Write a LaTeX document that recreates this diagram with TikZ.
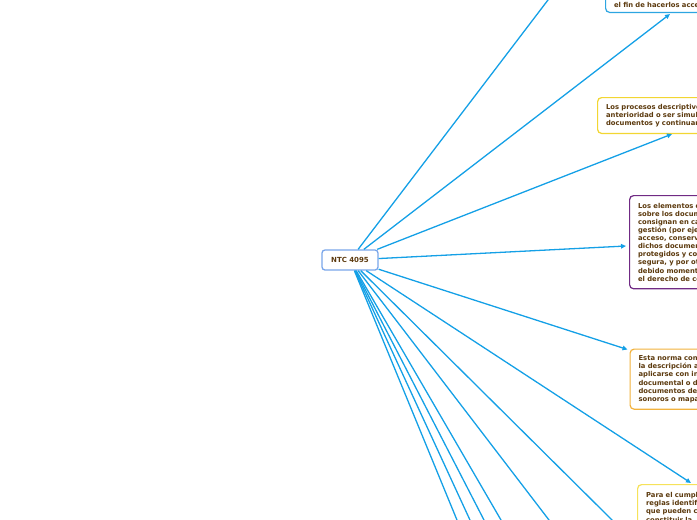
\documentclass[tikz,border=0pt]{standalone}
\usepackage{fontspec}
\setmainfont{DejaVu Sans}
\usetikzlibrary{arrows.meta,calc}
\definecolor{linec}{RGB}{20,160,230}
\definecolor{txt}{RGB}{92,58,14}
\definecolor{ntcb}{RGB}{122,166,234}
\definecolor{bA}{RGB}{45,165,225}
\definecolor{bB}{RGB}{242,214,50}
\definecolor{bC}{RGB}{112,42,132}
\definecolor{bD}{RGB}{242,178,60}
\definecolor{bE}{RGB}{246,226,90}
\begin{document}
\begin{tikzpicture}[x=1pt,y=-1pt,
  box/.style={draw, rounded corners=4pt, line width=1.2pt, fill=white, text=txt,
    font=\fontsize{6.8}{8.1}\selectfont\bfseries, inner xsep=8.5pt, inner ysep=6.5pt,
    align=left, text width=190pt, anchor=north west},
  conn/.style={draw=linec, line width=1.3pt},
  arr/.style={conn, -{Triangle[length=5pt,width=4.5pt]}}]
\useasboundingbox (0,0) rectangle (697,520);
\clip (0,0) rectangle (697,520);
% central node
\node[draw=ntcb, rounded corners=3pt, line width=1.3pt, fill=white, text=txt,
  font=\fontsize{7}{8}\selectfont\bfseries, minimum width=56pt, minimum height=20pt,
  inner sep=0pt] (ntc) at (350,260) {NTC 4095};
% boxes
\node[box, draw=bA, anchor=south west, text height=40pt, text depth=0pt, inner ysep=5pt] (A) at (605,13)
  {el fin de hacerlos accesibles};
\node[box, draw=bB] (B) at (597,97)
  {Los procesos descriptivos pueden\\anterioridad o ser simultáneos\\documentos y continuar a lo};
\node[box, draw=bC, inner ysep=7.5pt] (C) at (629,195)
  {Los elementos de\\sobre los documentos\\consignan en cada una\\gestión (por ejemplo\\acceso, conservación\\dichos documentos,\\protegidos y controlados\\segura, y por otro,\\debido momento\\el derecho de consultarlos};
\node[box, draw=bD] (D) at (629.5,348.5)
  {Esta norma contiene\\la descripción archivística\\aplicarse con independencia\\documental o del\\documentos de archivo\\sonoros o mapas};
\node[box, draw=bE, inner ysep=8pt] (E) at (637,484)
  {Para el cumplimiento\\reglas identifican\\que pueden contener\\constituir la};
% free ends off the picture
\coordinate (t0) at (563.2,-20);
\coordinate (b1) at (465.2,540);
\coordinate (b2) at (479.2,540);
\coordinate (b3) at (494.3,540);
\coordinate (b4) at (512.6,540);
\coordinate (b5) at (564.3,540);
\coordinate (b6) at (632.2,540);
% connectors
\draw[conn] (ntc) -- (t0);
\draw[arr] (ntc) -- ($(A.south west)+(65,1)$);
\draw[arr] (ntc) -- ($(B.south west)+(75,0)$);
\draw[arr] (ntc) -- ($(C.north west)+(-3,51)$);
\draw[arr] (ntc) -- ($(D.north west)+(-2,1)$);
\draw[arr] (ntc) -- ($(E.north west)+(54,-1)$);
\foreach \b in {b1,b2,b3,b4,b5,b6} \draw[conn] (ntc) -- (\b);
\end{tikzpicture}
\end{document}
